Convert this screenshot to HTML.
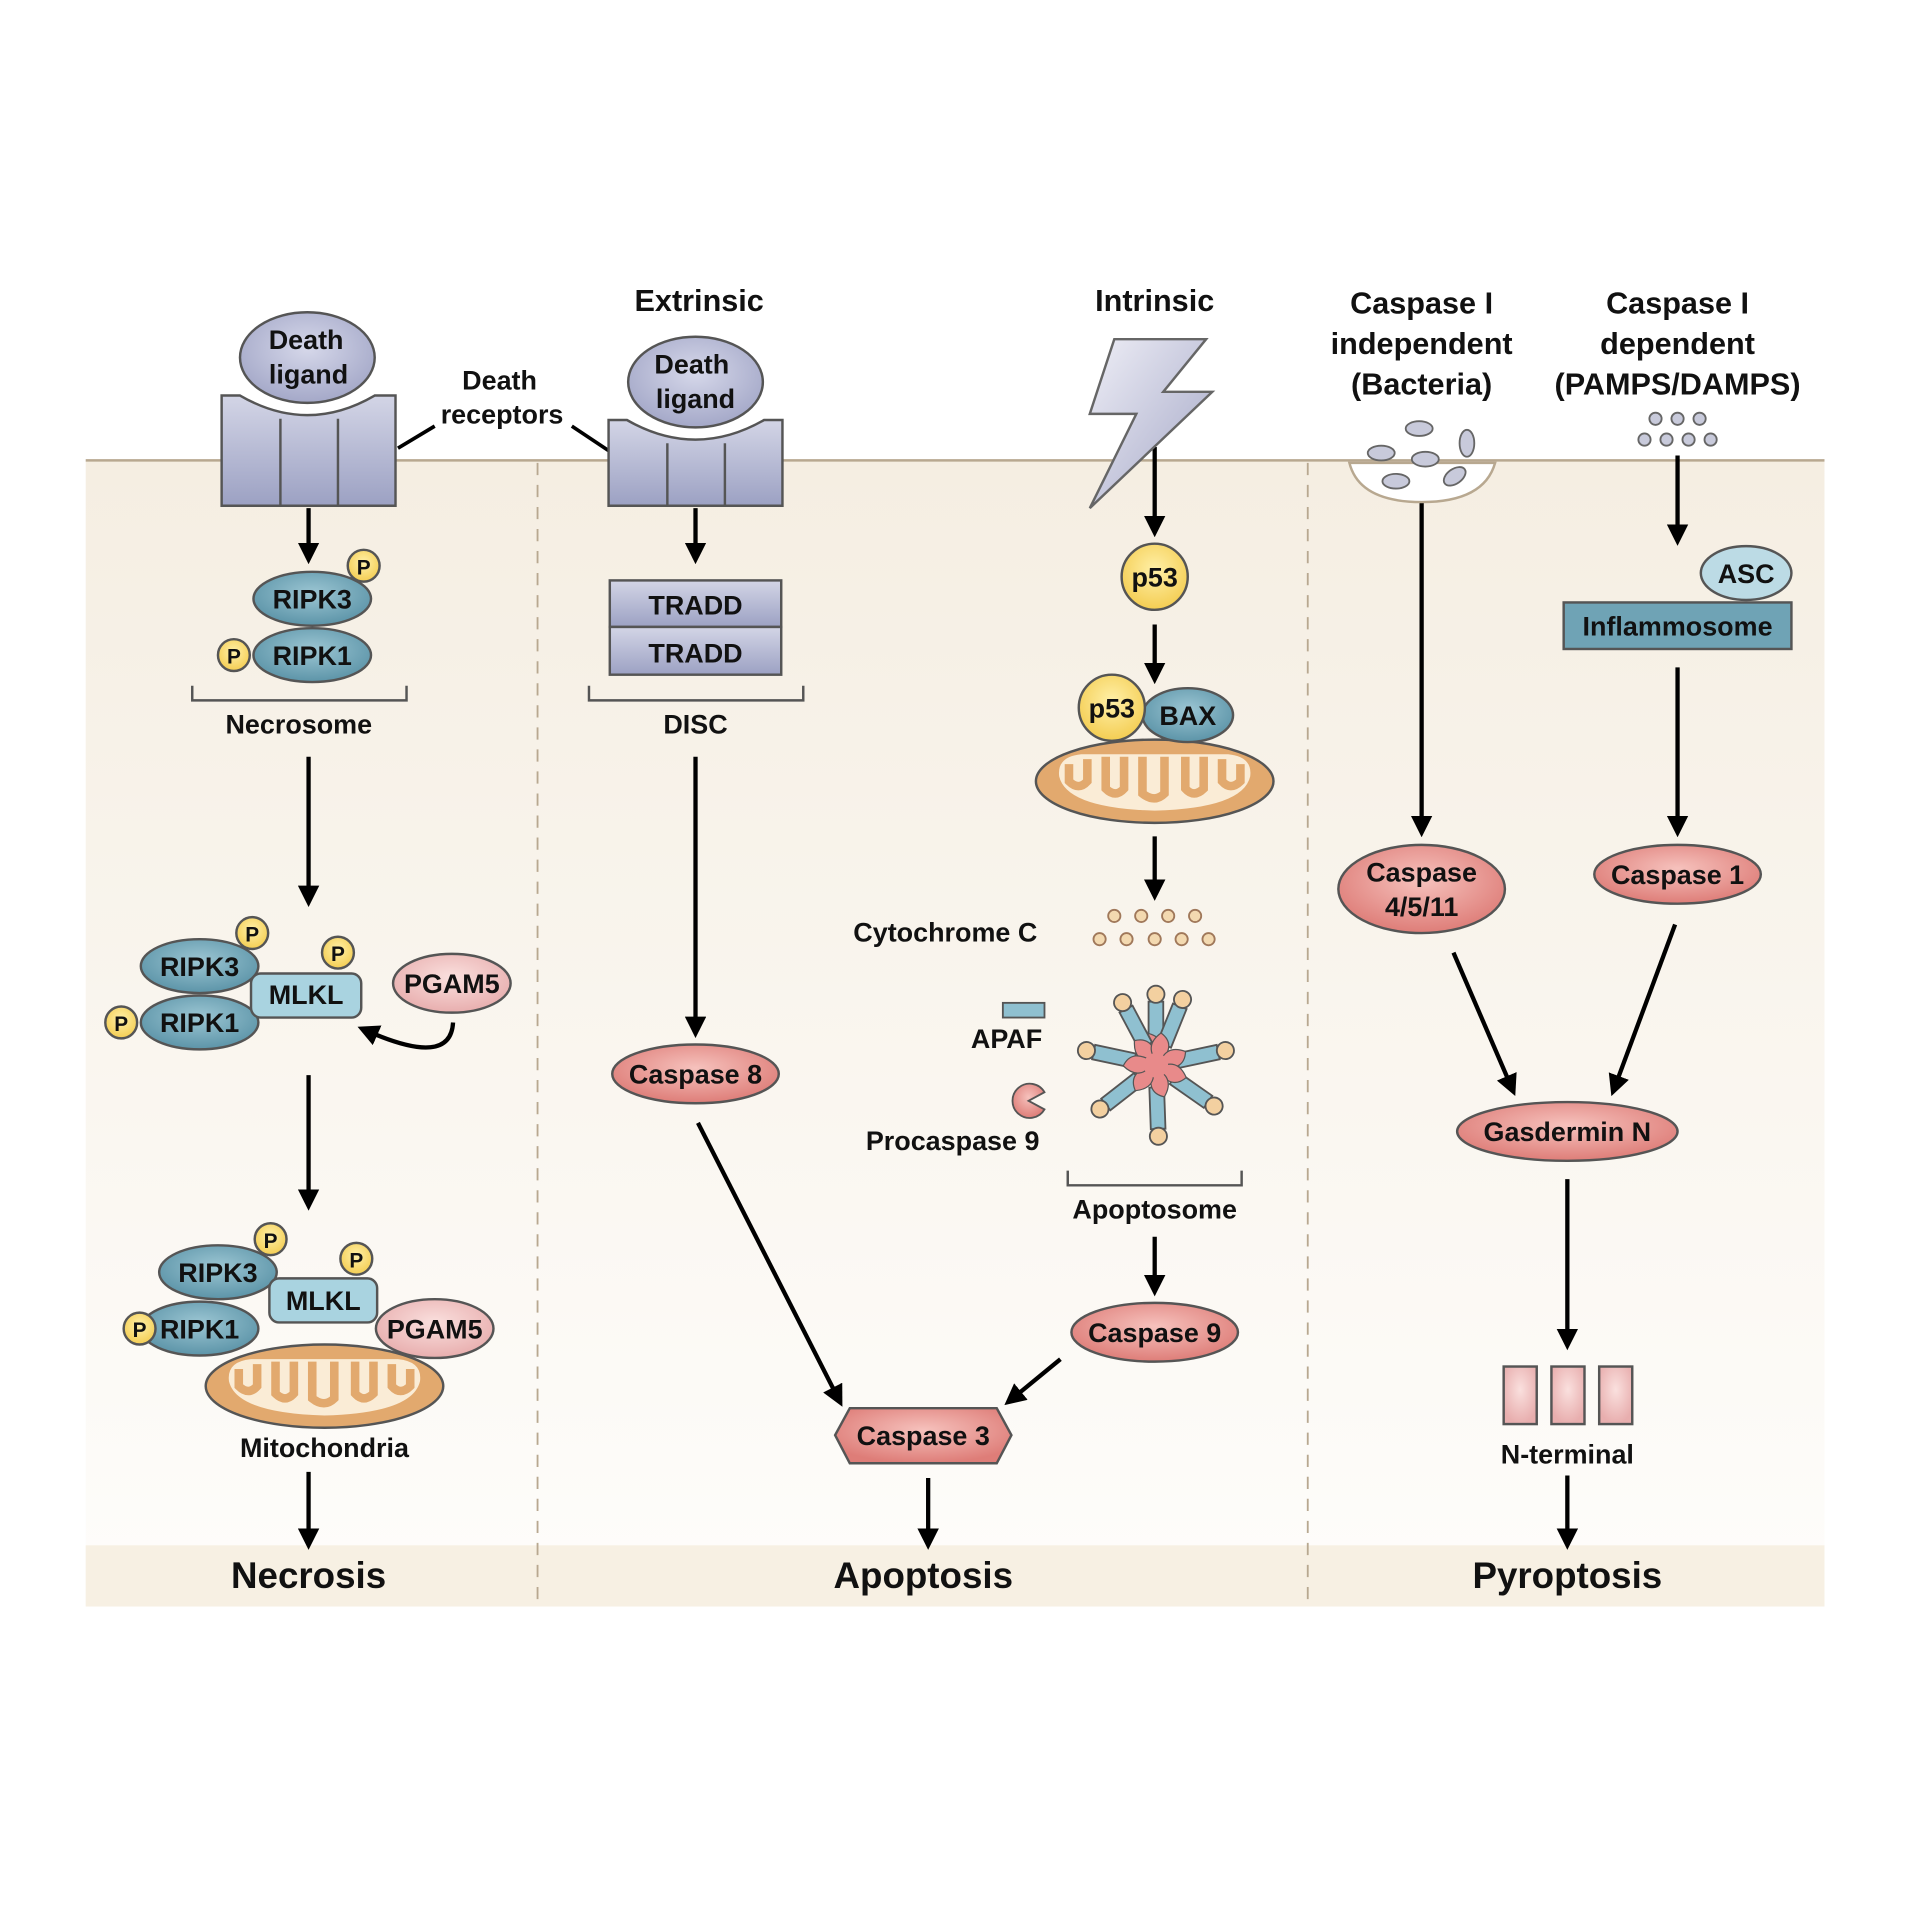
<!DOCTYPE html>
<html><head><meta charset="utf-8"><style>html,body{margin:0;padding:0;background:#fff}svg{display:block}text{font-family:"Liberation Sans",sans-serif;font-weight:bold;fill:#111}</style></head>
<body>
<svg width="1920" height="1920" viewBox="0 0 1568 1568" xmlns="http://www.w3.org/2000/svg">
<defs>
<linearGradient id="bg" x1="0" y1="0" x2="0" y2="1"><stop offset="0" stop-color="#f5eee2"/><stop offset="1" stop-color="#fefdfb"/></linearGradient>
<linearGradient id="rec" x1="0" y1="0" x2="0" y2="1"><stop offset="0" stop-color="#d3d5e6"/><stop offset="1" stop-color="#9ca1c3"/></linearGradient>
<radialGradient id="lig" cx="0.5" cy="0.4" r="0.6"><stop offset="0" stop-color="#d6d8ea"/><stop offset="1" stop-color="#a4a8c8"/></radialGradient>
<radialGradient id="teal" cx="0.5" cy="0.4" r="0.6"><stop offset="0" stop-color="#9cc6d3"/><stop offset="1" stop-color="#5c94a8"/></radialGradient>
<radialGradient id="sal" cx="0.5" cy="0.4" r="0.6"><stop offset="0" stop-color="#f6c2bd"/><stop offset="1" stop-color="#de7d78"/></radialGradient>
<radialGradient id="pink" cx="0.5" cy="0.4" r="0.6"><stop offset="0" stop-color="#fae0de"/><stop offset="1" stop-color="#e8aeae"/></radialGradient>
<radialGradient id="yel" cx="0.5" cy="0.4" r="0.6"><stop offset="0" stop-color="#fff0a8"/><stop offset="1" stop-color="#f4cd52"/></radialGradient>
<linearGradient id="bolt" x1="0" y1="0" x2="1" y2="1"><stop offset="0" stop-color="#eeeef6"/><stop offset="1" stop-color="#a3a6c6"/></linearGradient>
<marker id="ah" viewBox="0 0 10 10" refX="5" refY="5" markerWidth="5" markerHeight="5" orient="auto-start-reverse"><path d="M0,0 L10,5 L0,10 z" fill="#000"/></marker>
<g id="mito"><ellipse rx="97" ry="34" fill="#e2a96e" stroke="#555" stroke-width="2"/><path d="M-78,-4 Q-80,-20 -60,-22 L60,-22 Q80,-20 78,-4 Q72,22 0,24 Q-72,22 -78,-4 Z" fill="#faecd6"/><path d="M-70,-14 L-70,0 Q-62,8 -55,0 L-55,-18 M-40,-20 L-40,6 Q-32,14 -25,6 L-25,-20 M-10,-20 L-10,10 Q0,18 8,10 L8,-20 M25,-20 L25,6 Q32,14 40,6 L40,-20 M55,-18 L55,0 Q62,8 70,0 L70,-14" fill="none" stroke="#e2a96e" stroke-width="7"/></g>
</defs>
<rect x="70" y="376" width="1420" height="936" fill="url(#bg)"/>
<rect x="70" y="1262" width="1420" height="50" fill="#f7f0e3"/>
<line x1="70" y1="376" x2="1490" y2="376" stroke="#b8a890" stroke-width="2"/>
<line x1="439" y1="378" x2="439" y2="1312" stroke="#b8a890" stroke-width="1.5" stroke-dasharray="10,8"/>
<line x1="1068" y1="378" x2="1068" y2="1312" stroke="#b8a890" stroke-width="1.5" stroke-dasharray="10,8"/>

<g stroke="#000" stroke-width="3.5" fill="none" marker-end="url(#ah)">
<line x1="252" y1="415" x2="252" y2="452"/><line x1="252" y1="618" x2="252" y2="732"/><line x1="252" y1="878" x2="252" y2="980"/><line x1="252" y1="1202" x2="252" y2="1257"/>
<path d="M370,835 Q368,872 300,842"/>
<line x1="568" y1="415" x2="568" y2="452"/><line x1="568" y1="618" x2="568" y2="839"/><line x1="570" y1="917" x2="684" y2="1141"/><line x1="866" y1="1110" x2="827" y2="1142"/><line x1="758" y1="1207" x2="758" y2="1257"/>
<line x1="943" y1="365" x2="943" y2="430"/><line x1="943" y1="510" x2="943" y2="550"/><line x1="943" y1="683" x2="943" y2="727"/><line x1="943" y1="1010" x2="943" y2="1050"/>
<line x1="1161" y1="410" x2="1161" y2="675"/><line x1="1370" y1="372" x2="1370" y2="437"/><line x1="1370" y1="545" x2="1370" y2="675"/><line x1="1187" y1="778" x2="1234" y2="887"/><line x1="1368" y1="755" x2="1319" y2="887"/><line x1="1280" y1="963" x2="1280" y2="1094"/><line x1="1280" y1="1205" x2="1280" y2="1257"/>
</g>
<g stroke="#000" stroke-width="3"><line x1="325" y1="366" x2="355" y2="348"/><line x1="467" y1="348" x2="497" y2="368"/></g>

<g stroke="#555" stroke-width="2">
<path d="M181,323 L196,323 Q251,355 306,323 L323,323 L323,413 L181,413 Z" fill="url(#rec)"/>
<line x1="229" y1="342" x2="229" y2="413"/><line x1="276" y1="342" x2="276" y2="413"/>
<ellipse cx="251" cy="292" rx="55" ry="37" fill="url(#lig)"/>
<path d="M497,343 L512,343 Q568,375 624,343 L639,343 L639,413 L497,413 Z" fill="url(#rec)"/>
<line x1="545" y1="362" x2="545" y2="413"/><line x1="592" y1="362" x2="592" y2="413"/>
<ellipse cx="568" cy="312" rx="55" ry="37" fill="url(#lig)"/>
</g>
<g font-size="22" text-anchor="middle">
<text x="250" y="285">Death</text><text x="252" y="313">ligand</text>
<text x="565" y="305">Death</text><text x="568" y="333">ligand</text>
<text x="408" y="318">Death</text><text x="410" y="346">receptors</text>
<text x="571" y="254" font-size="25">Extrinsic</text><text x="943" y="254" font-size="25">Intrinsic</text>
<text x="1161" y="256" font-size="25">Caspase I</text><text x="1161" y="289" font-size="25">independent</text><text x="1161" y="322" font-size="25">(Bacteria)</text>
<text x="1370" y="256" font-size="25">Caspase I</text><text x="1370" y="289" font-size="25">dependent</text><text x="1370" y="322" font-size="25">(PAMPS/DAMPS)</text>
</g>

<g stroke="#555" stroke-width="2">
<ellipse cx="255" cy="489" rx="48" ry="22" fill="url(#teal)"/><ellipse cx="255" cy="535" rx="48" ry="22" fill="url(#teal)"/>
<circle cx="297" cy="462" r="13" fill="url(#yel)"/><circle cx="191" cy="535" r="13" fill="url(#yel)"/>
<ellipse cx="163" cy="789" rx="48" ry="22" fill="url(#teal)"/><ellipse cx="163" cy="835" rx="48" ry="22" fill="url(#teal)"/>
<rect x="205" y="795" width="90" height="36" rx="8" fill="#a9d3e0"/>
<circle cx="206" cy="762" r="13" fill="url(#yel)"/><circle cx="276" cy="778" r="13" fill="url(#yel)"/><circle cx="99" cy="835" r="13" fill="url(#yel)"/>
<ellipse cx="369" cy="803" rx="48" ry="24" fill="url(#pink)"/>
</g>
<use href="#mito" x="265" y="1132"/>
<g stroke="#555" stroke-width="2">
<ellipse cx="178" cy="1039" rx="48" ry="22" fill="url(#teal)"/><ellipse cx="163" cy="1085" rx="48" ry="22" fill="url(#teal)"/>
<rect x="220" y="1044" width="88" height="36" rx="8" fill="#a9d3e0"/>
<ellipse cx="355" cy="1085" rx="48" ry="24" fill="url(#pink)"/>
<circle cx="221" cy="1012" r="13" fill="url(#yel)"/><circle cx="291" cy="1028" r="13" fill="url(#yel)"/><circle cx="114" cy="1085" r="13" fill="url(#yel)"/>
</g>
<g fill="none" stroke="#555" stroke-width="2"><path d="M157,560 V572 H332 V560"/><path d="M481,560 V572 H656 V560"/><path d="M872,956 V968 H1014 V956"/></g>
<g font-size="22" text-anchor="middle">
<text x="255" y="497">RIPK3</text><text x="255" y="543">RIPK1</text><text x="297" y="469" font-size="17">P</text><text x="191" y="542" font-size="17">P</text>
<text x="244" y="599">Necrosome</text>
<text x="163" y="797">RIPK3</text><text x="163" y="843">RIPK1</text><text x="250" y="820">MLKL</text><text x="369" y="811">PGAM5</text>
<text x="206" y="769" font-size="17">P</text><text x="276" y="785" font-size="17">P</text><text x="99" y="842" font-size="17">P</text>
<text x="178" y="1047">RIPK3</text><text x="163" y="1093">RIPK1</text><text x="264" y="1070">MLKL</text><text x="355" y="1093">PGAM5</text>
<text x="221" y="1019" font-size="17">P</text><text x="291" y="1035" font-size="17">P</text><text x="114" y="1092" font-size="17">P</text>
<text x="265" y="1190">Mitochondria</text>
<text x="252" y="1297" font-size="30">Necrosis</text>
</g>

<g stroke="#555" stroke-width="2"><rect x="498" y="474" width="140" height="38" fill="url(#rec)"/><rect x="498" y="512" width="140" height="39" fill="url(#rec)"/>
<ellipse cx="568" cy="877" rx="68" ry="24" fill="url(#sal)"/>
<polygon points="694,1150 814,1150 826,1172 814,1195 694,1195 682,1172" fill="url(#sal)"/>
<ellipse cx="943" cy="1088" rx="68" ry="24" fill="url(#sal)"/></g>
<g font-size="22" text-anchor="middle">
<text x="568" y="502">TRADD</text><text x="568" y="541">TRADD</text><text x="568" y="599">DISC</text>
<text x="568" y="885">Caspase 8</text><text x="754" y="1180">Caspase 3</text><text x="943" y="1096">Caspase 9</text>
<text x="754" y="1297" font-size="30">Apoptosis</text>
</g>

<polygon points="910,277 985,277 950,320 990,320 890,415 928,338 890,338" fill="url(#bolt)" stroke="#666" stroke-width="2"/>
<g stroke="#555" stroke-width="2">
<circle cx="943" cy="471" r="27" fill="url(#yel)"/>
</g>
<use href="#mito" x="943" y="638"/>
<g stroke="#555" stroke-width="2">
<ellipse cx="970" cy="584" rx="37" ry="22" fill="url(#teal)"/><circle cx="908" cy="578" r="27" fill="url(#yel)"/>
</g>
<g fill="#f3d9b0" stroke="#a0785a" stroke-width="1.5">
<circle cx="910" cy="748" r="5"/><circle cx="932" cy="748" r="5"/><circle cx="954" cy="748" r="5"/><circle cx="976" cy="748" r="5"/>
<circle cx="898" cy="767" r="5"/><circle cx="920" cy="767" r="5"/><circle cx="943" cy="767" r="5"/><circle cx="965" cy="767" r="5"/><circle cx="987" cy="767" r="5"/>
</g>
<rect x="819" y="819" width="34" height="12" fill="#8fc0d0" stroke="#555" stroke-width="1.5"/>
<path d="M840,899 L853,892 A14,14 0 1 0 853,906 Z" fill="url(#sal)" stroke="#555" stroke-width="1.5"/>
<g transform="translate(944,870)">
<g id="arm"><rect x="-6" y="-52" width="12" height="34" fill="#8fc0d0" stroke="#555" stroke-width="1.5"/><circle cx="0" cy="-58" r="7" fill="#f3d0a0" stroke="#555" stroke-width="1.5"/><path d="M2,-2 Q-16,-10 -6,-26 Q10,-22 2,-2 Z" fill="#e88a8a" stroke="#555" stroke-width="1"/></g>
<use href="#arm" transform="rotate(-28)"/><use href="#arm" transform="rotate(22)"/><use href="#arm" transform="rotate(78)"/><use href="#arm" transform="rotate(125)"/><use href="#arm" transform="rotate(178)"/><use href="#arm" transform="rotate(232)"/><use href="#arm" transform="rotate(282)"/>
<circle r="10" fill="#e88a8a"/>
</g>
<g font-size="22" text-anchor="middle">
<text x="943" y="479">p53</text><text x="908" y="586">p53</text><text x="970" y="592">BAX</text>
<text x="772" y="769">Cytochrome C</text><text x="822" y="856">APAF</text><text x="778" y="939">Procaspase 9</text>
<text x="943" y="995">Apoptosome</text>
</g>

<path d="M1102,378 Q1110,410 1161,410 Q1212,410 1221,378 Z" fill="#fff" stroke="#b8a890" stroke-width="2"/>
<g fill="#c8cadb" stroke="#666" stroke-width="1.5">
<ellipse cx="1159" cy="350" rx="11" ry="6"/><ellipse cx="1198" cy="362" rx="6" ry="11"/><ellipse cx="1128" cy="370" rx="11" ry="6"/><ellipse cx="1164" cy="375" rx="11" ry="6"/><ellipse cx="1188" cy="389" rx="10" ry="6" transform="rotate(-35 1188 389)"/><ellipse cx="1140" cy="393" rx="11" ry="6"/>
</g>
<g fill="#c8cadb" stroke="#666" stroke-width="1.5">
<circle cx="1352" cy="342" r="5"/><circle cx="1370" cy="342" r="5"/><circle cx="1388" cy="342" r="5"/>
<circle cx="1343" cy="359" r="5"/><circle cx="1361" cy="359" r="5"/><circle cx="1379" cy="359" r="5"/><circle cx="1397" cy="359" r="5"/>
</g>
<g stroke="#555" stroke-width="2">
<ellipse cx="1426" cy="468" rx="37" ry="22" fill="#bcdbe5"/>
<rect x="1277" y="492" width="186" height="38" fill="#6fa3b5"/>
<ellipse cx="1161" cy="726" rx="68" ry="36" fill="url(#sal)"/>
<ellipse cx="1370" cy="714" rx="68" ry="24" fill="url(#sal)"/>
<ellipse cx="1280" cy="924" rx="90" ry="24" fill="url(#sal)"/>
<rect x="1228" y="1116" width="27" height="47" fill="url(#pink)"/><rect x="1267" y="1116" width="27" height="47" fill="url(#pink)"/><rect x="1306" y="1116" width="27" height="47" fill="url(#pink)"/>
</g>
<g font-size="22" text-anchor="middle">
<text x="1426" y="476">ASC</text><text x="1370" y="519">Inflammosome</text>
<text x="1161" y="720">Caspase</text><text x="1161" y="748">4/5/11</text>
<text x="1370" y="722">Caspase 1</text><text x="1280" y="932">Gasdermin N</text>
<text x="1280" y="1195">N-terminal</text>
<text x="1280" y="1297" font-size="30">Pyroptosis</text>
</g>
</svg>
</body></html>
